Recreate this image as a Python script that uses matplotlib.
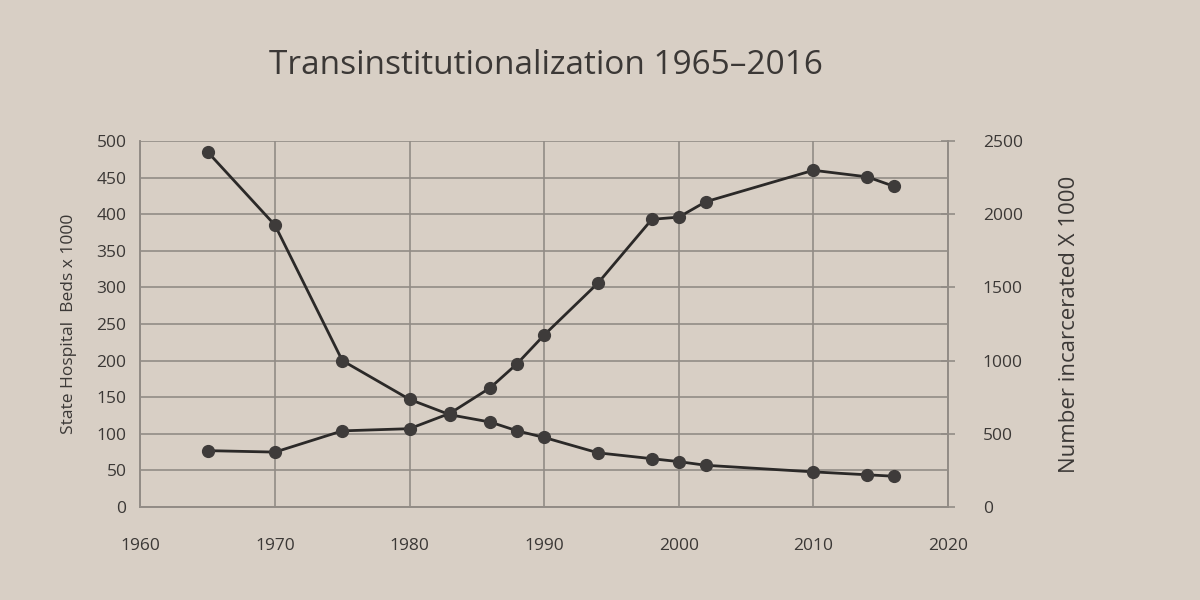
import matplotlib
matplotlib.use("Agg")
import matplotlib.pyplot as plt
from matplotlib.ticker import MultipleLocator

# Data (thousands)
years = [1965, 1970, 1975, 1980, 1983, 1986, 1988, 1990, 1994, 1998, 2000, 2002, 2010, 2014, 2016]
hospital_beds = [485, 385, 200, 147, 126, 116, 104, 95, 74, 66, 62, 57, 48, 44, 42]
incarcerated = [385, 375, 520, 535, 640, 815, 980, 1175, 1530, 1965, 1980, 2085, 2300, 2255, 2190]

x_ticks = [1960, 1970, 1980, 1990, 2000, 2010, 2020]
left_ticks = list(range(0, 501, 50))
right_ticks = list(range(0, 2501, 500))

title = "Transinstitutionalization 1965\u20132016"
left_label = "State Hospital  Beds x 1000"
right_label = "Number incarcerated X 1000"

paper = "#d8cfc5"
ink = "#3b3836"
grid_c = "#928c86"
line_c = "#2b2928"

plt.rcParams['font.family'] = ['Open Sans', 'DejaVu Sans']

fig = plt.figure(figsize=(12, 6), dpi=100, facecolor=paper)
ax = fig.add_axes([0.117, 0.155, 0.673, 0.61], facecolor=paper)
ax2 = ax.twinx()

ax.set_xlim(1960, 2020)
ax.set_ylim(0, 500)
ax2.set_ylim(0, 2500)

ax.set_xticks(x_ticks)
ax.set_yticks(left_ticks)
ax2.set_yticks(right_ticks)
ax2.yaxis.set_minor_locator(MultipleLocator(250))

ax.grid(True, which='major', color=grid_c, linewidth=1.2)
ax.set_axisbelow(True)

for a in (ax, ax2):
    for s in a.spines.values():
        s.set_color(grid_c)
        s.set_linewidth(1.2)
    a.spines['top'].set_visible(False)

ax.tick_params(axis='both', length=0, labelsize=12.5, labelcolor=ink, pad=10)
ax.tick_params(axis='x', pad=22)
ax2.tick_params(axis='y', which='major', direction='inout', length=10, color=grid_c,
                width=1.2, labelsize=12.5, labelcolor=ink, pad=20)
ax2.tick_params(axis='y', which='minor', length=0)

ax.plot(years, hospital_beds, color=line_c, linewidth=2.0, marker='o',
        markersize=8.5, markerfacecolor='#3e3b3a', markeredgecolor='#3e3b3a', zorder=3)
ax2.plot(years, incarcerated, color=line_c, linewidth=2.0, marker='o',
         markersize=8.5, markerfacecolor='#3e3b3a', markeredgecolor='#3e3b3a', zorder=3)

ax.set_ylabel(left_label, fontsize=12.5, color=ink, labelpad=14)
ax2.set_ylabel(right_label, fontsize=16, color=ink, labelpad=26)

fig.text(0.455, 0.89, title, ha='center', va='center', fontsize=24, color=ink)

fig.savefig("out.png", dpi=100, facecolor=paper)
